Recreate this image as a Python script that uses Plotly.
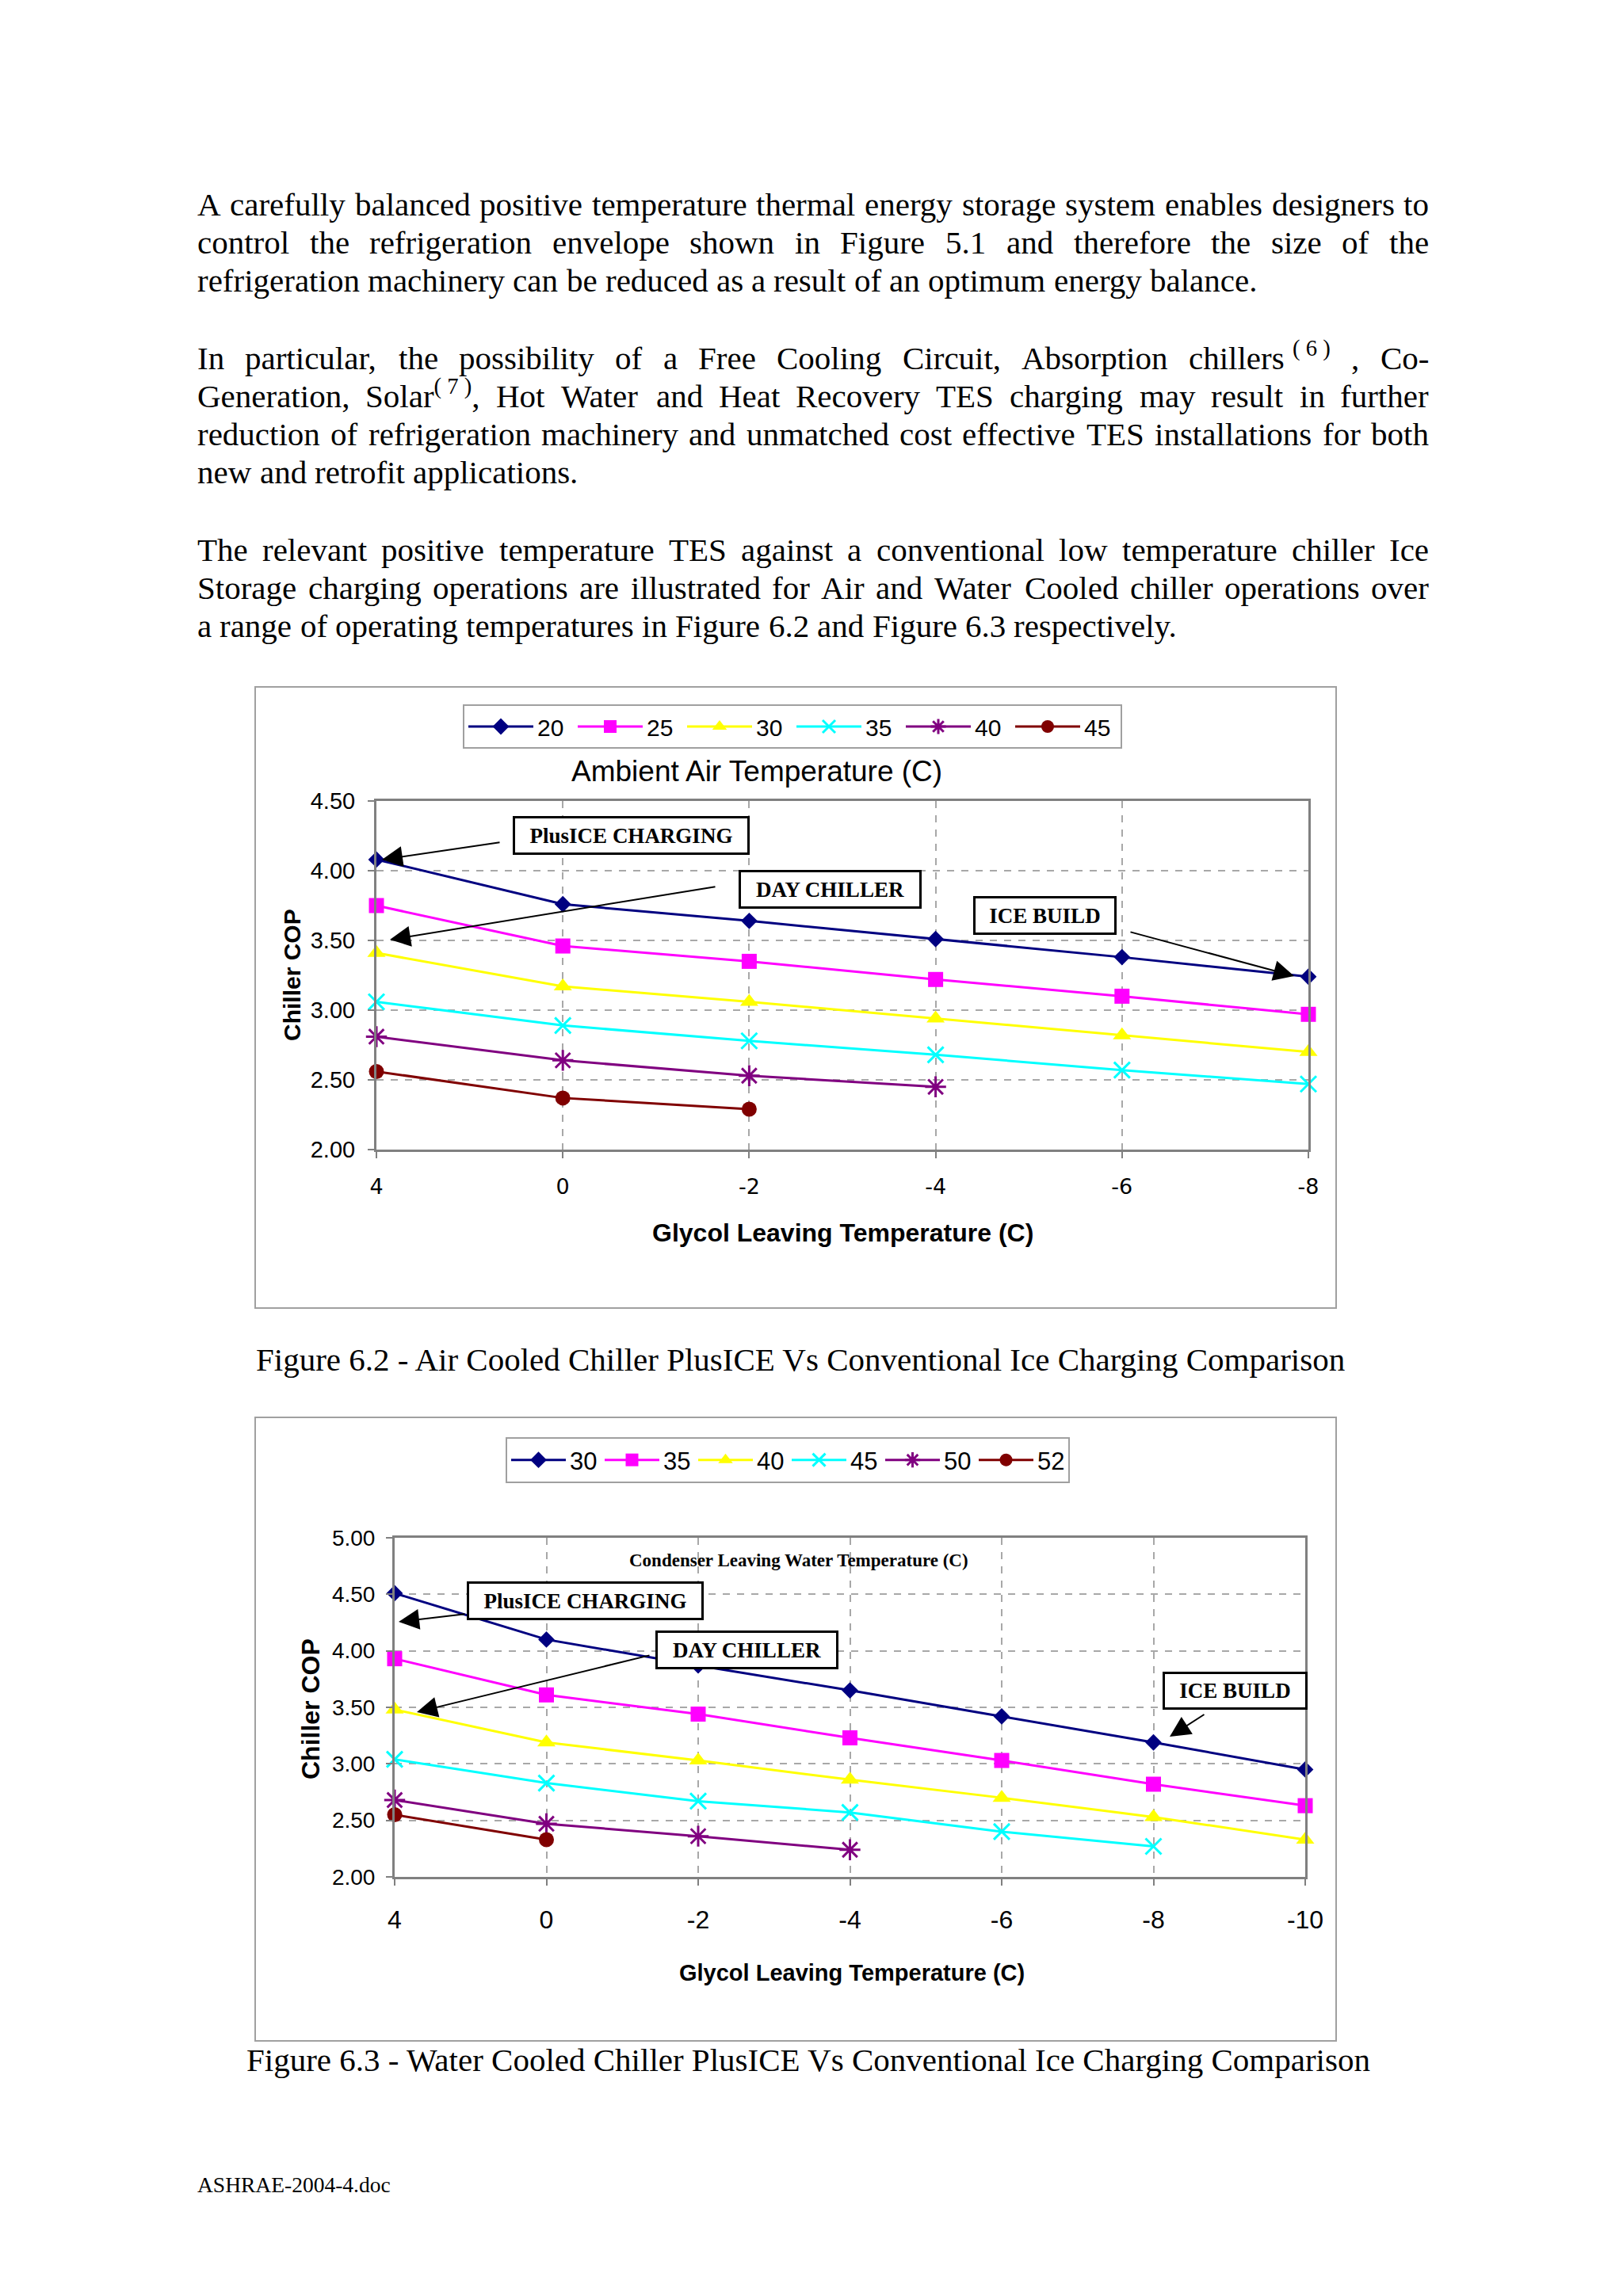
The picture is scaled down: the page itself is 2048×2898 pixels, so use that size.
import re
import plotly.graph_objects as go

# ---------------- data ----------------
X1_CATS = ["4", "0", "-2", "-4", "-6", "-8"]
AIR_LABELS = ["20", "25", "30", "35", "40", "45"]
AIR_20 = [4.08, 3.76, 3.64, 3.51, 3.38, 3.24]
AIR_25 = [3.75, 3.46, 3.35, 3.22, 3.10, 2.97]
AIR_30 = [3.41, 3.17, 3.06, 2.94, 2.82, 2.70]
AIR_35 = [3.06, 2.89, 2.78, 2.68, 2.57, 2.47]
AIR_40 = [2.81, 2.64, 2.53, 2.45]
AIR_45 = [2.56, 2.37, 2.29]

X2_CATS = ["4", "0", "-2", "-4", "-6", "-8", "-10"]
WAT_LABELS = ["30", "35", "40", "45", "50", "52"]
WAT_30 = [4.51, 4.10, 3.87, 3.65, 3.42, 3.19, 2.95]
WAT_35 = [3.93, 3.61, 3.44, 3.23, 3.03, 2.82, 2.63]
WAT_40 = [3.48, 3.19, 3.03, 2.86, 2.70, 2.53, 2.33]
WAT_45 = [3.04, 2.83, 2.67, 2.57, 2.40, 2.27]
WAT_50 = [2.68, 2.47, 2.36, 2.24]
WAT_52 = [2.55, 2.33]

Y1_TICKS = [2.0, 2.5, 3.0, 3.5, 4.0, 4.5]
Y2_TICKS = [2.0, 2.5, 3.0, 3.5, 4.0, 4.5, 5.0]

PARA_LINES = [
    "A carefully balanced positive temperature thermal energy storage system enables designers to",
    "control the refrigeration envelope shown in Figure 5.1 and therefore the size of the",
    "refrigeration machinery can be reduced as a result of an optimum energy balance.",
    "In particular, the possibility of a Free Cooling Circuit, Absorption chillers~{6} , Co-",
    "Generation, Solar{7}, Hot Water and Heat Recovery TES charging may result in further",
    "reduction of refrigeration machinery and unmatched  cost effective TES installations for both",
    "new and retrofit applications.",
    "The relevant positive temperature TES against a conventional low temperature chiller Ice",
    "Storage charging operations are illustrated for  Air and  Water  Cooled chiller operations over",
    "a range of operating temperatures in Figure 6.2 and Figure 6.3 respectively.",
]
PARA_JUSTIFY = [True, True, False, True, True, True, False, True, True, False]
PARA_BASELINE = [273, 321, 369, 467, 515, 563, 611, 709, 757, 805]

CAPTION_1 = "Figure 6.2 - Air Cooled Chiller PlusICE Vs Conventional Ice Charging Comparison"
CAPTION_2 = "Figure 6.3 - Water Cooled Chiller PlusICE Vs Conventional Ice Charging Comparison"
FOOTER = "ASHRAE-2004-4.doc"

# ---------------- page geometry ----------------
W, H, OFF = 2032, 2882, 8


def X(px):
    return (px - OFF) / W


def Y(py):
    return 1 - (py - OFF) / H


SERIF = "Liberation Serif, Times New Roman, serif"
SANS = "Liberation Sans, Arial, sans-serif"
DEJAVU = "DejaVu Sans, Verdana, sans-serif"

# Times New Roman advance widths (/1000)
TW = {' ': 250, '~': 250, 'a': 444, 'b': 500, 'c': 444, 'd': 500, 'e': 444, 'f': 333, 'g': 500, 'h': 500,
      'i': 278, 'j': 278, 'k': 500, 'l': 278, 'm': 778, 'n': 500, 'o': 500, 'p': 500, 'q': 500,
      'r': 333, 's': 389, 't': 278, 'u': 500, 'v': 500, 'w': 722, 'x': 500, 'y': 500, 'z': 444,
      'A': 722, 'B': 667, 'C': 667, 'D': 722, 'E': 611, 'F': 556, 'G': 722, 'H': 722, 'I': 333,
      'J': 389, 'K': 722, 'L': 611, 'M': 889, 'N': 722, 'O': 722, 'P': 556, 'Q': 722, 'R': 667,
      'S': 556, 'T': 611, 'U': 722, 'V': 722, 'W': 944, 'X': 722, 'Y': 722, 'Z': 611,
      '.': 250, ',': 250, '-': 333, '(': 333, ')': 333}


def tw(s, size):
    return sum(TW.get(c, 500) for c in s) * size / 1000.0


def word_width(word, size):
    total = 0.0
    for part in re.split(r'(\{[^}]*\})', word):
        if not part:
            continue
        if part.startswith('{'):
            total += tw('( %s )' % part[1:-1], size * 0.7)
        else:
            total += tw(part, size)
    return total


def word_html(word):
    w = re.sub(r'\{([^}]*)\}', lambda m: '<sup>( %s )</sup>' % m.group(1), word)
    return w.replace('~', ' ')


fig = go.Figure()

colors = ["#000080", "#FF00FF", "#FFFF00", "#00FFFF", "#800080", "#800000"]
symbols = ["diamond", "square", "triangle-up", "x-thin-open", "asterisk-open", "circle"]
msizes = [16, 19, 20, 20, 22, 19]

air_series = [AIR_20, AIR_25, AIR_30, AIR_35, AIR_40, AIR_45]
for lab, vals, col, sym, ms in zip(AIR_LABELS, air_series, colors, symbols, msizes):
    fig.add_trace(go.Scatter(
        x=X1_CATS[:len(vals)], y=vals, name=lab, mode="lines+markers",
        line=dict(color=col, width=3),
        marker=dict(symbol=sym, size=ms, color=col, line=dict(color=col, width=3 if "open" in sym else 0)),
        xaxis="x", yaxis="y", legend="legend", cliponaxis=False))

wat_series = [WAT_30, WAT_35, WAT_40, WAT_45, WAT_50, WAT_52]
for lab, vals, col, sym, ms in zip(WAT_LABELS, wat_series, colors, symbols, msizes):
    fig.add_trace(go.Scatter(
        x=X2_CATS[:len(vals)], y=vals, name=lab, mode="lines+markers",
        line=dict(color=col, width=3),
        marker=dict(symbol=sym, size=ms, color=col, line=dict(color=col, width=3 if "open" in sym else 0)),
        xaxis="x2", yaxis="y2", legend="legend2", cliponaxis=False))

axis_common = dict(showline=True, linecolor="#808080", linewidth=3, mirror=True,
                   showgrid=True, gridcolor="#a8a8a8", gridwidth=1.5, griddash="dash",
                   ticks="outside", ticklen=8, tickwidth=1.5, tickcolor="#808080",
                   zeroline=False, fixedrange=True, automargin=False)

fig.update_layout(
    template="none",
    width=W, height=H, autosize=False,
    margin=dict(l=0, r=0, t=0, b=0, pad=0, autoexpand=False),
    paper_bgcolor="white", plot_bgcolor="white",
    showlegend=True,
    xaxis=dict(domain=[X(475), X(1651)], type="category", categoryarray=X1_CATS,
               range=[0, len(X1_CATS) - 1], anchor="y",
               tickfont=dict(family=DEJAVU, size=27, color="black"), ticklabelstandoff=13,
               **axis_common),
    yaxis=dict(domain=[Y(1451), Y(1011)], range=[2, 4.5], tickvals=Y1_TICKS,
               tickformat=".2f", anchor="x",
               tickfont=dict(family=SANS, size=29, color="black"), ticklabelstandoff=10,
               **axis_common),
    xaxis2=dict(domain=[X(498), X(1647)], type="category", categoryarray=X2_CATS,
                range=[0, len(X2_CATS) - 1], anchor="y2",
                tickfont=dict(family=SANS, size=32, color="black"), ticklabelstandoff=16,
                **axis_common),
    yaxis2=dict(domain=[Y(2369), Y(1941)], range=[2, 5], tickvals=Y2_TICKS,
                tickformat=".2f", anchor="x2",
                tickfont=dict(family=SANS, size=28, color="black"), ticklabelstandoff=8,
                **axis_common),
    legend=dict(orientation="h", x=X(1000), xanchor="center", y=Y(889), yanchor="top",
                bordercolor="#a0a0a0", borderwidth=2, bgcolor="white",
                font=dict(family=SANS, size=30, color="black"),
                itemwidth=82, entrywidth=41, entrywidthmode="pixels", traceorder="normal"),
    legend2=dict(orientation="h", x=X(994), xanchor="center", y=Y(1814), yanchor="top",
                 bordercolor="#a0a0a0", borderwidth=2, bgcolor="white",
                 font=dict(family=SANS, size=31, color="black"),
                 itemwidth=69, entrywidth=34, entrywidthmode="pixels", traceorder="normal"),
)

# outer chart frames
for (x0, y0, x1, y1) in [(322, 867, 1686, 1651), (322, 1789, 1686, 2576)]:
    fig.add_shape(type="rect", xref="paper", yref="paper",
                  x0=X(x0), x1=X(x1), y0=Y(y0), y1=Y(y1),
                  line=dict(color="#a0a0a0", width=2), fillcolor="rgba(0,0,0,0)", layer="below")

ann = []


def text_ann(txt, px, py, family, size, xanchor="center", yanchor="middle", angle=0):
    ann.append(dict(text=txt, x=X(px), y=Y(py), xref="paper", yref="paper", showarrow=False,
                    xanchor=xanchor, yanchor=yanchor, textangle=angle, borderpad=0,
                    font=dict(family=family, size=size, color="black")))


# paragraphs (justified)
LEFT, RIGHT, PSIZE = 248, 1802, 41
for line, just, base in zip(PARA_LINES, PARA_JUSTIFY, PARA_BASELINE):
    words = line.split()
    widths = [word_width(w, PSIZE) for w in words]
    if just and len(words) > 1:
        gap = (RIGHT - LEFT - sum(widths)) / (len(words) - 1)
    else:
        gap = tw(' ', PSIZE)
    x = LEFT
    for w, wd in zip(words, widths):
        text_ann(word_html(w), x, base + 9, SERIF, PSIZE, xanchor="left", yanchor="bottom")
        x += wd + gap

# captions / footer
text_ann(CAPTION_1, 322, 1716, SERIF, 41, xanchor="left")
text_ann(CAPTION_2, 310, 2600, SERIF, 41, xanchor="left")
text_ann(FOOTER, 248, 2757, SERIF, 27.5, xanchor="left")

# chart 1 titles
text_ann("Ambient Air Temperature (C)", 955, 973, SANS, 37)
text_ann("<b>Chiller COP</b>", 368, 1231, SANS, 30, angle=-90)
text_ann("<b>Glycol Leaving Temperature (C)</b>", 1063, 1556, SANS, 32)
# chart 2 titles
text_ann("<b>Condenser Leaving Water Temperature (C)</b>", 1008, 1969, SERIF, 23)
text_ann("<b>Chiller COP</b>", 392, 2157, SANS, 32, angle=-90)
text_ann("<b>Glycol Leaving Temperature (C)</b>", 1075, 2490, SANS, 29)

# label boxes
BOXES = [("PlusICE CHARGING", 647, 1030, 946, 1079), ("DAY CHILLER", 932, 1098, 1163, 1147),
         ("ICE BUILD", 1228, 1131, 1409, 1180),
         ("PlusICE CHARGING", 589, 1996, 888, 2045), ("DAY CHILLER", 827, 2058, 1058, 2107),
         ("ICE BUILD", 1467, 2110, 1650, 2158)]
for txt, x0, y0, x1, y1 in BOXES:
    ann.append(dict(text="<b>%s</b>" % txt, x=X((x0 + x1) / 2), y=Y((y0 + y1) / 2),
                    xref="paper", yref="paper", showarrow=False, xanchor="center", yanchor="middle",
                    width=x1 - x0 - 6, height=y1 - y0 - 6, borderpad=0, borderwidth=3,
                    bordercolor="black", bgcolor="white",
                    font=dict(family=SERIF, size=27, color="black")))

# arrows (tail -> head)
ARROWS = [((632, 1063), (482, 1085)), ((904, 1119), (492, 1186)), ((1425, 1176), (1633, 1232)),
          ((588, 2037), (503, 2047)), ((821, 2089), (526, 2161)), ((1521, 2163), (1476, 2192))]
for (tx, ty), (hx, hy) in ARROWS:
    ann.append(dict(text="", x=X(hx), y=Y(hy), xref="paper", yref="paper", showarrow=True,
                    ax=tx - hx, ay=ty - hy, axref="pixel", ayref="pixel",
                    arrowhead=2, arrowsize=2.6, arrowwidth=2, arrowcolor="black", standoff=0))

fig.update_layout(annotations=ann)

fig.write_html("out.html")
